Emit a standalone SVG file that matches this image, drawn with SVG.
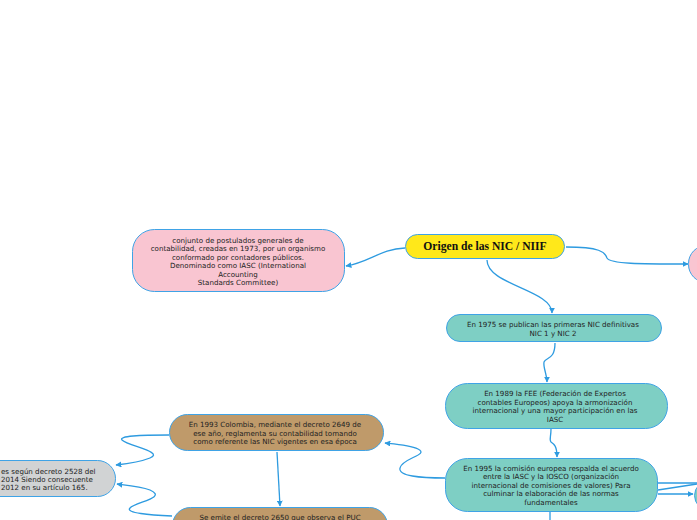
<svg xmlns="http://www.w3.org/2000/svg" width="697" height="520" viewBox="0 0 697 520">
<defs>
<marker id="ah" viewBox="0 0 10 10" refX="9" refY="5" markerWidth="6" markerHeight="6" orient="auto" markerUnits="userSpaceOnUse">
<path d="M0,0 L10,5 L0,10 z" fill="#2E9BE0"/>
</marker>
<style>
.n{stroke:#3FA3E6;stroke-width:1}
.pink{fill:#F9C5D1}
.teal{fill:#7ECFC4}
.brown{fill:#BF9A6A}
.grey{fill:#D1D3D4}
.yellow{fill:#FFE81A}
.t{font-family:"DejaVu Sans",Verdana,sans-serif;font-size:7.1px;fill:#222;text-anchor:middle}
.title{font-family:"Liberation Serif","Times New Roman",serif;font-weight:bold;font-size:11.6px;fill:#111;text-anchor:middle}
.c{fill:none;stroke:#2E9BE0;stroke-width:1.3}
</style>
</defs>
<rect width="697" height="520" fill="#FFFFFF"/>
<g id="connectors">
<path class="c" d="M405,248 C380,249 370,262 346,266" marker-end="url(#ah)"/>
<path class="c" d="M566,247 C600,247 605,252 607,258 C610,264 640,264 688,264" marker-end="url(#ah)"/>
<path class="c" d="M487,260 C487,285 552,290 552,313" marker-end="url(#ah)"/>
<path class="c" d="M555,343 C555,360 546,357 544,362 C543,368 547,374 547,382" marker-end="url(#ah)"/>
<path class="c" d="M551,429 C551,437 549,440 551,442 C554,444 557,446 557,457" marker-end="url(#ah)"/>
<path class="c" d="M445,478 C420,478 398,476 400,468 C402,458 430,455 418,449 C410,445 395,444 385,443" marker-end="url(#ah)"/>
<path class="c" d="M658,483 L697,483"/>
<path class="c" d="M658,490 L697,484"/>
<path class="c" d="M658,494 L693,494" marker-end="url(#ah)"/>
<path class="c" d="M550,512 L550,520"/>
<path class="c" d="M169,435 C140,435 118,436 122,440 C128,446 165,452 150,458 C140,462 125,464 116,465" marker-end="url(#ah)"/>
<path class="c" d="M277,452 L280,506" marker-end="url(#ah)"/>
<path class="c" d="M172,516 C150,515 125,513 130,508 C135,502 168,498 150,490 C140,486 125,485 117,484" marker-end="url(#ah)"/>
</g>
<g id="root">
<rect class="n yellow" x="405.5" y="234.5" width="159" height="24" rx="12"/>
<text class="title" x="485" y="250">Origen de las NIC / NIIF</text>
</g>
<g id="node-definicion">
<rect class="n pink" x="132.5" y="229.5" width="212" height="62" rx="22"/>
<text class="t" x="238" y="242.5">conjunto de postulados generales de</text>
<text class="t" x="238" y="251">contabilidad, creadas en 1973, por un organismo</text>
<text class="t" x="238" y="259.5">conformado por contadores públicos.</text>
<text class="t" x="238" y="268">Denominado como IASC (International</text>
<text class="t" x="238" y="276.5">Accounting</text>
<text class="t" x="238" y="285">Standards Committee)</text>
</g>
<g id="node-right">
<rect class="n pink" x="688.5" y="245.5" width="60" height="37" rx="18"/>
</g>
<g id="node-1975">
<rect class="n teal" x="446.5" y="314.5" width="215" height="27" rx="13.5"/>
<text class="t" x="553" y="327">En 1975 se publican las primeras NIC definitivas</text>
<text class="t" x="553" y="335.5">NIC 1 y NIC 2</text>
</g>
<g id="node-1989">
<rect class="n teal" x="445.5" y="383.5" width="222" height="45" rx="22"/>
<text class="t" x="555" y="396">En 1989 la FEE (Federación de Expertos</text>
<text class="t" x="555" y="404.5">contables Europeos) apoya la armonización</text>
<text class="t" x="555" y="413">internacional y una mayor participación en las</text>
<text class="t" x="555" y="421.5">IASC</text>
</g>
<g id="node-1995">
<rect class="n teal" x="445.5" y="458.5" width="212" height="53" rx="22"/>
<text class="t" x="551" y="470.5">En 1995 la comisión europea respalda el acuerdo</text>
<text class="t" x="551" y="479">entre la IASC  y la IOSCO (organización</text>
<text class="t" x="551" y="487.5">internacional de comisiones de valores) Para</text>
<text class="t" x="551" y="496">culminar la elaboración de las normas</text>
<text class="t" x="551" y="504.5">fundamentales</text>
</g>
<g id="node-right2">
<rect class="n teal" x="694.5" y="480.5" width="40" height="30" rx="15"/>
</g>
<g id="node-1993">
<rect class="n brown" x="169.5" y="414.5" width="214" height="36" rx="18"/>
<text class="t" x="275" y="427">En 1993 Colombia, mediante el decreto 2649 de</text>
<text class="t" x="275" y="435.5">ese año, reglamenta su contabilidad tomando</text>
<text class="t" x="275" y="444">como referente las NIC vigentes en esa época</text>
</g>
<g id="node-grey">
<rect class="n grey" x="-100" y="460.5" width="215.5" height="36" rx="18"/>
<text class="t" x="1" y="473.5" style="text-anchor:start">es según decreto 2528 del</text>
<text class="t" x="1" y="481.5" style="text-anchor:start">2014 Siendo consecuente</text>
<text class="t" x="1" y="490" style="text-anchor:start">2012 en su artículo 165.</text>
</g>
<g id="node-2650">
<rect class="n brown" x="172.5" y="507.5" width="215" height="40" rx="18"/>
<text class="t" x="280" y="519.5">Se emite el decreto 2650 que observa el PUC</text>
</g>
</svg>
